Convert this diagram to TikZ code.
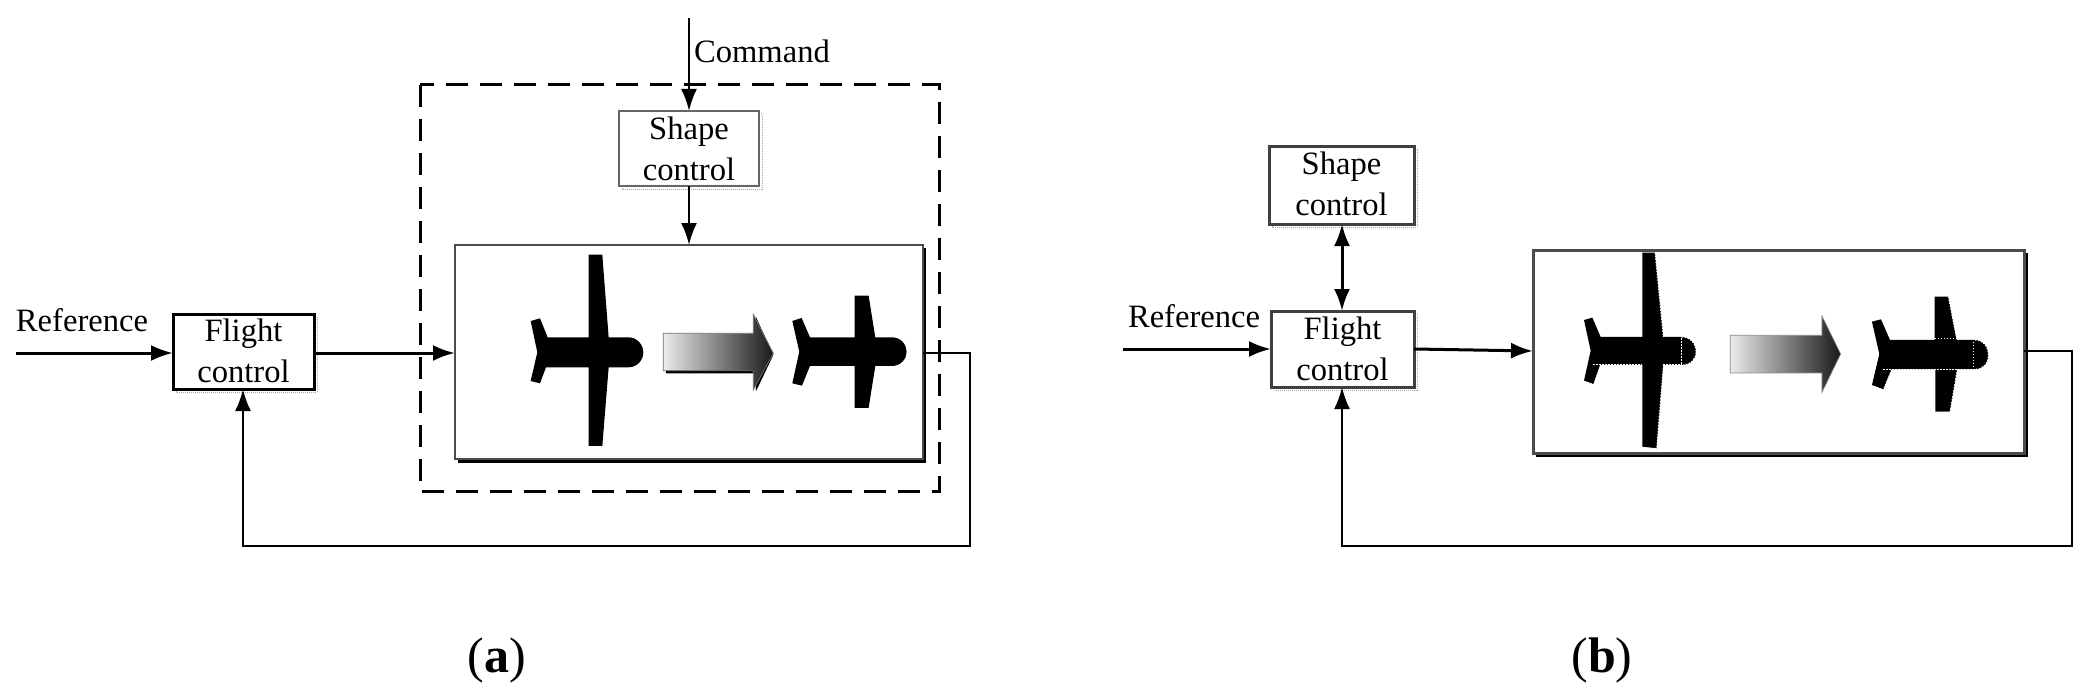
\documentclass[tikz,border=0pt]{standalone}
\usepackage{fontspec}
\setmainfont{Liberation Serif}
\usetikzlibrary{arrows.meta,calc,shadings}
\tikzset{
  x=1pt,y=-1pt,
  every node/.style={outer sep=0pt},
  lbl/.style={font=\fontsize{32.6}{41}\selectfont,inner sep=0pt,text=black},
  ctl/.style={lbl,draw=black!75,fill=white,align=center,inner sep=0pt,anchor=north west},
  ctltext/.style={lbl,align=center,anchor=center},
  shd/.style={draw=black!35,line width=1pt,densely dotted},
  bigbox/.style={draw=black!70,fill=white,line width=2pt,anchor=north west,inner sep=0pt},
  bigshadow/.style={fill=black},
  conn/.style={draw=black,line width=3pt,-{Latex[length=22pt,width=16pt]}},
  thin conn/.style={draw=black,line width=2.5pt,-{Latex[length=22pt,width=16pt]}},
  plane/.style={fill=black},
  dotline/.style={draw=white,line width=1pt,dash pattern=on 1.5pt off 1.5pt},
  dashbox/.style={draw=black,line width=3pt,dash pattern=on 22pt off 12pt},
  caption/.style={font=\fontsize{50}{56}\selectfont,inner sep=0pt,anchor=base}
}
\definecolor{gradL}{gray}{0.92}
\definecolor{gradR}{gray}{0.1}
\begin{document}
\begin{tikzpicture}
\useasboundingbox (0,0) rectangle (2086,698);
\fill[white] (0,0) rectangle (2086,698);

%% ---------- Panel (a) ----------
\draw[dashbox] (420,85) rectangle (939,491);
% big box
\fill[bigshadow] (458,248) rectangle (926,463);
\node[bigbox,minimum width=468pt,minimum height=214pt] (bigA) at (455,245) {};
% planes
\begin{scope}[shift={(450,220)},x=0.3333pt,y=-0.3333pt]
  \fill[plane] (242,303)--(270,295)--(293,352)--(416,352)--(416,104)--(457,104)--(476,352)--(535,352)
     .. controls (562,352) and (580,375) .. (580,397) .. controls (580,420) and (562,442) .. (535,442)
     --(476,442)--(457,678)--(416,678)--(416,442)--(288,442)--(270,490)--(242,483)--(262,397)--cycle;
  \fill[plane] (1027,303)--(1055,294)--(1080,352)--(1214,352)--(1214,227)--(1256,227)--(1276,352)--(1326,352)
     .. controls (1352,352) and (1370,373) .. (1370,395) .. controls (1370,417) and (1352,438) .. (1326,438)
     --(1276,438)--(1256,564)--(1214,564)--(1214,438)--(1080,438)--(1056,497)--(1027,490)--(1048,395)--cycle;
  % gradient arrow with shadow
  \fill[black] (648,348)--(918,348)--(918,291)--(970,405)--(918,514)--(918,460)--(648,460)--cycle;
  \shade[left color=gradL,right color=gradR,draw=black!55,line width=0.7pt]
     (640,340)--(910,340)--(910,283)--(970,400)--(910,510)--(910,452)--(640,452)--cycle;
\end{scope}
% shape control
\draw[shd] (622,114) rectangle (762,189);
\node[ctl,minimum width=140pt,minimum height=75pt,draw=black!60,line width=2pt] (shapeA) at (619,111) {};
\node[ctltext] (shapeAt) at (shapeA.center) {Shape\\control};
% flight control
\draw[shd] (176,317) rectangle (317,392);
\node[ctl,minimum width=141pt,minimum height=75pt,draw=black,line width=3pt] (flightA) at (173,314) {};
\node[ctltext] (flightAt) at ([yshift=0.8pt]flightA.center) {Flight\\control};
% free ends
\coordinate (refA) at (16,353);
\coordinate (cmdA) at (689,18);
\coordinate (fbA1) at (970,353);
\coordinate (fbA2) at (970,546);
\coordinate (fbA3) at (243,546);
% connectors
\draw[thin conn] (cmdA) -- (cmdA |- shapeA.north);
\draw[thin conn] (cmdA |- shapeA.south) -- (cmdA |- bigA.north);
\draw[conn] (refA) -- (refA -| flightA.west);
\draw[conn] (refA -| flightA.east) -- (refA -| bigA.west);
\draw[thin conn] (refA -| bigA.east) -- (fbA1) -- (fbA2) -- (fbA3) -- (fbA3 |- flightA.south);
% labels
\node[lbl,anchor=base west] (cmdT) at (694,63) {Command};
\node[lbl,anchor=base west] (refTA) at (16,331) {Reference};

%% ---------- Panel (b) ----------
\fill[bigshadow] (1536,253) rectangle (2028,457);
\node[bigbox,minimum width=491pt,minimum height=203pt,line width=3pt] (bigB) at (1533,250) {};
\begin{scope}[shift={(1530,230)},x=0.3333pt,y=-0.3333pt]
  \fill[plane] (162,270)--(187,263)--(212,321)--(337,321)--(337,68)--(375,68)--(400,321)--(455,321)
     .. controls (482,321) and (498,342) .. (498,365) .. controls (498,388) and (482,405) .. (455,405)
     --(400,405)--(380,655)--(337,650)--(337,405)--(210,405)--(190,462)--(162,452)--(182,362)--cycle;
  \draw[dotline] (375,68)--(400,321);
  \draw[dotline] (455,325)--(455,405);
  \draw[dotline] (455,321) .. controls (482,321) and (498,342) .. (498,365) .. controls (498,388) and (482,405) .. (455,405);
  \draw[dotline] (190,405)--(337,405) (400,405)--(455,405);
  \draw[dotline] (400,405)--(380,655)--(340,655);
  \draw[dotline] (215,408)--(195,465)--(166,455);
  \fill[plane] (1026,275)--(1053,268)--(1080,330)--(1214,330)--(1214,200)--(1255,200)--(1280,330)--(1335,330)
     .. controls (1360,330) and (1375,350) .. (1375,375) .. controls (1375,400) and (1360,418) .. (1335,418)
     --(1282,418)--(1260,545)--(1216,545)--(1216,418)--(1085,418)--(1060,478)--(1026,465)--(1048,372)--cycle;
  \draw[dotline] (1255,200)--(1280,325);
  \draw[dotline] (1214,325)--(1280,325);
  \draw[dotline] (1332,335)--(1332,418);
  \draw[dotline] (1335,330) .. controls (1360,330) and (1375,350) .. (1375,375) .. controls (1375,400) and (1360,418) .. (1335,418);
  \draw[dotline] (1060,418)--(1335,418);
  \draw[dotline] (1282,418)--(1260,547)--(1218,547);
  \draw[dotline] (1085,420)--(1060,480)--(1030,468);
  \shade[left color=gradL,right color=gradR,draw=black!45,line width=0.7pt]
     (601,316)--(876,316)--(876,258)--(932,372)--(876,487)--(876,429)--(601,429)--cycle;
\end{scope}
\draw[shd] (1272,150) rectangle (1417,227);
\node[ctl,minimum width=145pt,minimum height=77pt,line width=3pt] (shapeB) at (1269,147) {};
\node[ctltext] (shapeBt) at ([yshift=1.3pt]shapeB.center) {Shape\\control};
\draw[shd] (1274,314) rectangle (1417,390);
\node[ctl,minimum width=143pt,minimum height=76pt,line width=3pt] (flightB) at (1271,311) {};
\node[ctltext] (flightBt) at (flightB.center) {Flight\\control};
\coordinate (refB) at (1123,349);
\coordinate (inB) at (1533,351);
\coordinate (fbB0) at (2024,351);
\coordinate (fbB1) at (2072,351);
\coordinate (fbB2) at (2072,546);
\coordinate (fbB3) at (1342,546);
\draw[conn,{Latex[length=22pt,width=16pt]}-{Latex[length=22pt,width=16pt]}] (shapeB.south -| fbB3) -- (flightB.north -| fbB3);
\draw[conn] (refB) -- (refB -| flightB.west);
\draw[conn] (refB -| flightB.east) -- (inB);
\draw[thin conn] (fbB0) -- (fbB1) -- (fbB2) -- (fbB3) -- (fbB3 |- flightB.south);
\node[lbl,anchor=base west] (refTB) at (1128,327) {Reference};

%% ---------- captions ----------
\node[caption] (capA) at (497,672) {(\textbf{a})};
\node[caption] (capB) at (1602,672) {(\textbf{b})};
\end{tikzpicture}
\end{document}
